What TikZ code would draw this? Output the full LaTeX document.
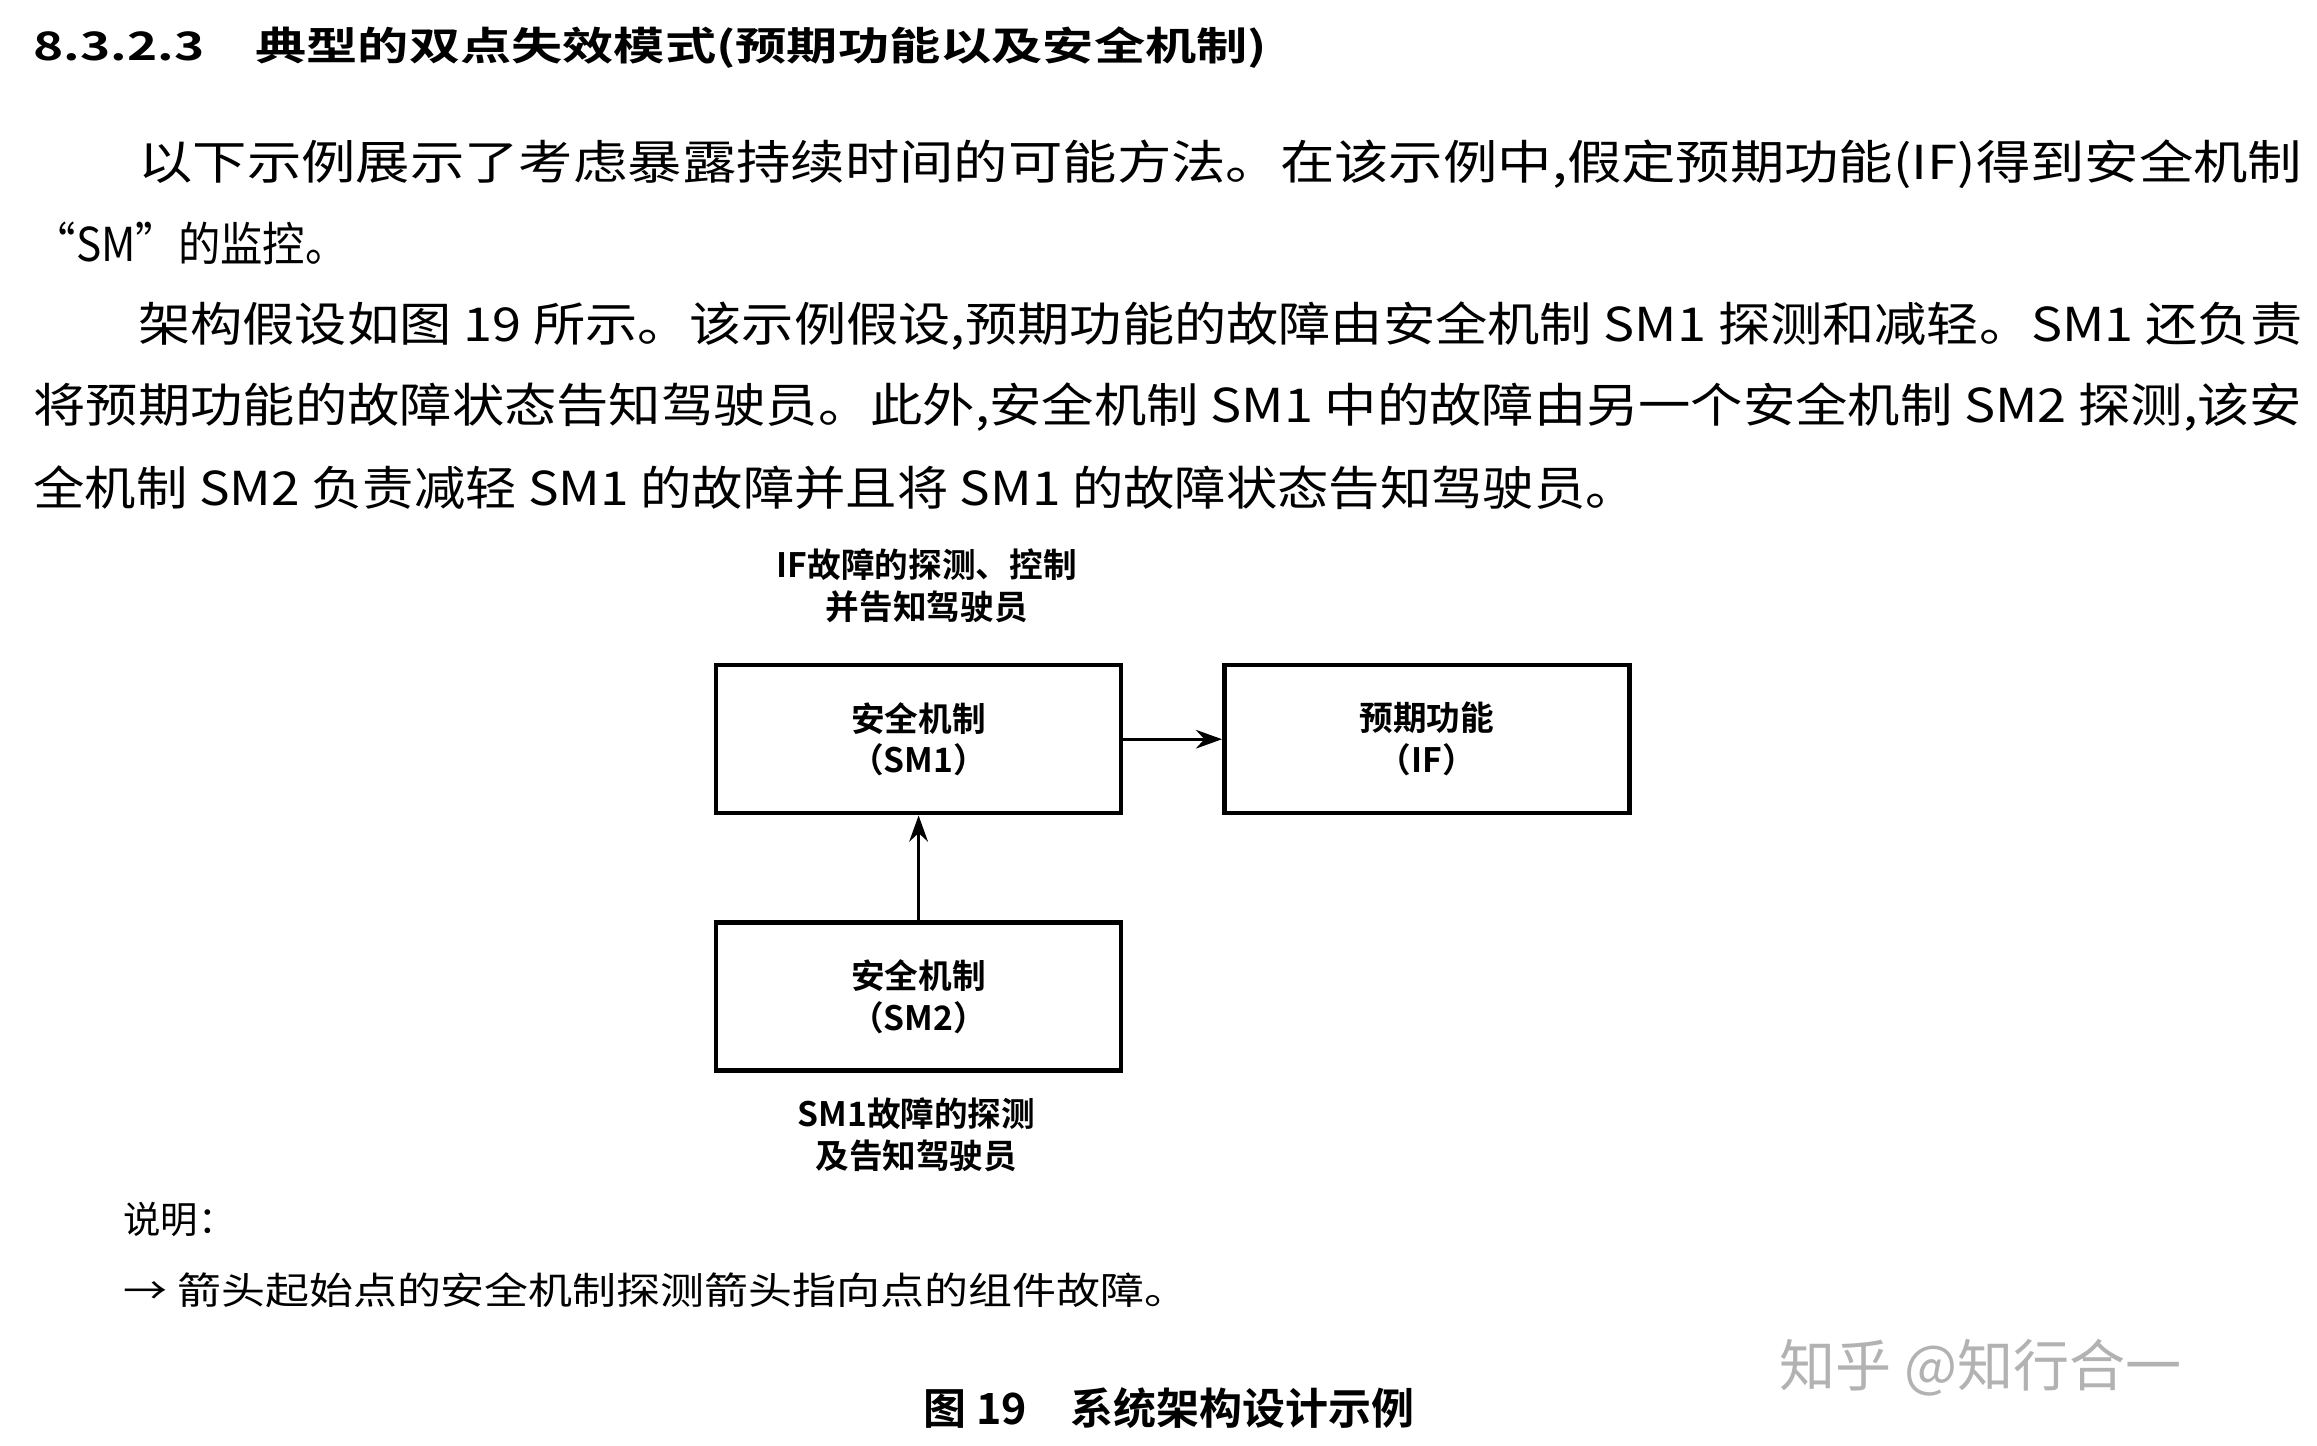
\documentclass[tikz,border=0pt]{standalone}
\usepackage{fontspec}
\usepackage{graphicx}
\setmainfont{Noto Sans CJK SC}
\newfontfamily\cjkb{Noto Sans CJK SC Bold}
\usetikzlibrary{arrows.meta}
\newcommand{\fitline}[2]{\resizebox{#1}{\height}{#2}}
\tikzset{x=0.4pt,y=-0.4pt,
 box/.style={draw,line width=1.2pt,inner sep=0},
 lab/.style={font=\fontsize{9}{11}\selectfont,align=center,inner sep=0},
 body/.style={anchor=west,inner sep=0,font=\fontsize{12.5}{14}\selectfont},
 arr/.style={-{Stealth[length=7pt,width=5pt]},line width=0.8pt}}
\begin{document}
\begin{tikzpicture}
\useasboundingbox[fill=white] (0,0) rectangle (1550,967);
\node[body,font=\cjkb\fontsize{10.5}{12}\selectfont] (title) at (22,32) {\fitline{330pt}{8.3.2.3\quad 典型的双点失效模式(预期功能以及安全机制)}};
\node[body] (p1) at (92,110) {\fitline{579pt}{以下示例展示了考虑暴露持续时间的可能方法。在该示例中,假定预期功能(IF)得到安全机制}};
\node[body] (p2) at (22,163) {\fitline{84pt}{“SM”的监控。}};
\node[body] (p3) at (92,218) {\fitline{579pt}{架构假设如图 19 所示。该示例假设,预期功能的故障由安全机制 SM1 探测和减轻。SM1 还负责}};
\node[body] (p4) at (22,272) {\fitline{607pt}{将预期功能的故障状态告知驾驶员。此外,安全机制 SM1 中的故障由另一个安全机制 SM2 探测,该安}};
\node[body] (p5) at (22,326) {\fitline{429pt}{全机制 SM2 负责减轻 SM1 的故障并且将 SM1 的故障状态告知驾驶员。}};

\node[lab,font=\cjkb\fontsize{9}{11.2}\selectfont] (t1) at (620,392) {IF故障的探测、控制\\并告知驾驶员};
\node[box,minimum width=108.4pt,minimum height=39.6pt] (sm1) at (614.5,494.5) {};
\node[lab,font=\cjkb\fontsize{9}{11.2}\selectfont] at (sm1) {安全机制\\（SM1）};
\node[box,minimum width=108.4pt,minimum height=39.6pt] (if) at (954.5,494.5) {};
\node[lab,font=\cjkb\fontsize{9}{11.2}\selectfont] at (if) {预期功能\\（IF）};
\node[box,minimum width=108.4pt,minimum height=39.6pt] (sm2) at (614.5,666.5) {};
\node[lab,font=\cjkb\fontsize{9}{11.2}\selectfont] at (sm2) {安全机制\\（SM2）};
\node[lab,font=\cjkb\fontsize{9}{11.2}\selectfont] (t2) at (613,759) {SM1故障的探测\\及告知驾驶员};
\draw[arr] (sm1.east) -- (if.west);
\draw[arr] (sm2.north) -- (sm1.south);

\node[body,font=\fontsize{10}{12}\selectfont] (sm) at (82,816) {说明：};
\node[body,font=\fontsize{10}{12}\selectfont] (leg) at (82,863) {\fitline{285pt}{→ 箭头起始点的安全机制探测箭头指向点的组件故障。}};
\node[inner sep=0,font=\cjkb\fontsize{11.5}{13}\selectfont] (cap) at (782,942) {图 19\quad 系统架构设计示例};
\node[body,font=\fontsize{15}{17}\selectfont,text=black!30] (wm) at (1190,915) {知乎 @知行合一};
\end{tikzpicture}
\end{document}
